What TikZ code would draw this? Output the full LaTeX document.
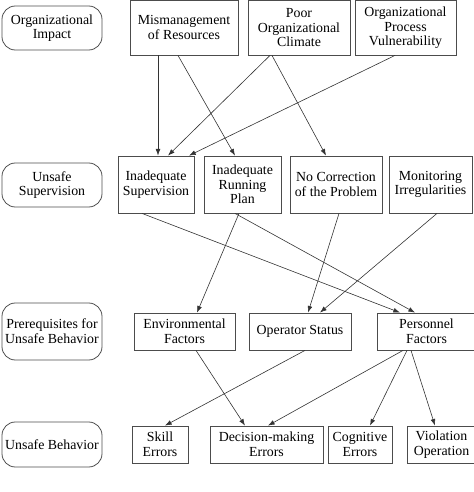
\documentclass[tikz,border=0pt]{standalone}
\usepackage{fontspec}
\setmainfont{Liberation Serif}
\usetikzlibrary{arrows.meta}

\begin{document}
\begin{tikzpicture}[x=0.75pt,y=-0.75pt,
    font=\fontsize{10.4}{11}\selectfont,
    boite/.style={draw=black!70,line width=0.6pt,align=center,inner sep=0pt},
    niveau/.style={draw=black!70,line width=0.6pt,align=center,inner sep=0pt,
        rounded corners=10pt,minimum width=75pt},
    fleche/.style={-{Latex[length=5pt,width=3.6pt]},draw=black!80,line width=0.45pt}]
    \useasboundingbox (0,0) rectangle (474,492);
    % Niveaux
    \path (52,28) node[niveau,minimum height=33pt] (impact) {Organizational\\Impact};
    \path (52,185) node[niveau,minimum height=33pt] (usup) {Unsafe\\Supervision};
    \path (52,331.5) node[niveau,minimum height=42.75pt] (preq) {Prerequisites for\\Unsafe Behavior};
    \path (52,444.5) node[niveau,minimum height=33.75pt] (ubeh) {Unsafe Behavior};
    % Rang 1
    \path (184,27.75) node[boite,minimum width=81pt,minimum height=40.9pt] (mis) {Mismanagement\\of Resources};
    \path (299,27.75) node[boite,minimum width=76.5pt,minimum height=40.9pt] (poor) {Poor\\Organizational\\Climate};
    \path (405.5,27.75) node[boite,minimum width=75.75pt,minimum height=40.9pt] (proc) {Organizational\\Process\\Vulnerability};
    % Rang 2
    \path (156,184.5) node[boite,minimum width=57pt,minimum height=42.75pt] (insup) {Inadequate\\Supervision};
    \path (242.5,184.5) node[boite,minimum width=57.75pt,minimum height=42.75pt] (plan) {Inadequate\\Running\\Plan};
    \path (336,184.5) node[boite,minimum width=69pt,minimum height=42.75pt] (nocor) {No Correction\\of the Problem};
    \path (430.5,184.5) node[boite,minimum width=62.25pt,minimum height=42.75pt] (monit) {Monitoring\\Irregularities};
    % Rang 3
    \path (184.5,331.5) node[boite,minimum width=75.75pt,minimum height=27.75pt] (env) {Environmental\\Factors};
    \path (300,331.5) node[boite,minimum width=76.5pt,minimum height=27.75pt] (oper) {Operator Status};
    \path (426.5,331.5) node[boite,minimum width=74.25pt,minimum height=27.75pt] (pers) {Personnel\\Factors};
    % Rang 4
    \path (160,444.5) node[boite,minimum width=42pt,minimum height=27.75pt] (skill) {Skill\\Errors};
    \path (266.5,444.5) node[boite,minimum width=84.75pt,minimum height=27.75pt] (dec) {Decision-making\\Errors};
    \path (360,444.5) node[boite,minimum width=48pt,minimum height=27.75pt] (cog) {Cognitive\\Errors};
    \path (441.5,444.5) node[boite,minimum width=51.75pt,minimum height=27.75pt] (viol) {Violation\\Operation};
    % Rang 1 vers rang 2
    \draw[fleche] (mis.south -| 158,0) -- (insup.north -| 158,0);
    \draw[fleche] (mis.south -| 178,0) -- (plan.north -| 235,0);
    \draw[fleche] (poor.south -| 270,0) -- (insup.north -| 168,0);
    \draw[fleche] (poor.south -| 272,0) -- (nocor.north -| 326,0);
    \draw[fleche] (proc.south -| 395,0) -- (insup.north -| 189,0);
    % Rang 2 vers rang 3
    \draw[fleche] (insup.south -| 142,0) -- (pers.north -| 400,0);
    \draw[fleche] (plan.south -| 239,0) -- (env.north -| 197,0);
    \draw[fleche] (plan.south -| 235,0) -- (pers.north -| 415,0);
    \draw[fleche] (nocor.south -| 339,0) -- (oper.north -| 308,0);
    \draw[fleche] (monit.south -| 437,0) -- (oper.north -| 320,0);
    % Rang 3 vers rang 4
    \draw[fleche] (env.south -| 196,0) -- (dec.north -| 245,0);
    \draw[fleche] (oper.south -| 305,0) -- (skill.north -| 165,0);
    \draw[fleche] (pers.south -| 403,0) -- (dec.north -| 268,0);
    \draw[fleche] (pers.south -| 407,0) -- (cog.north -| 370,0);
    \draw[fleche] (pers.south -| 411,0) -- (viol.north -| 435,0);
\end{tikzpicture}
\end{document}
